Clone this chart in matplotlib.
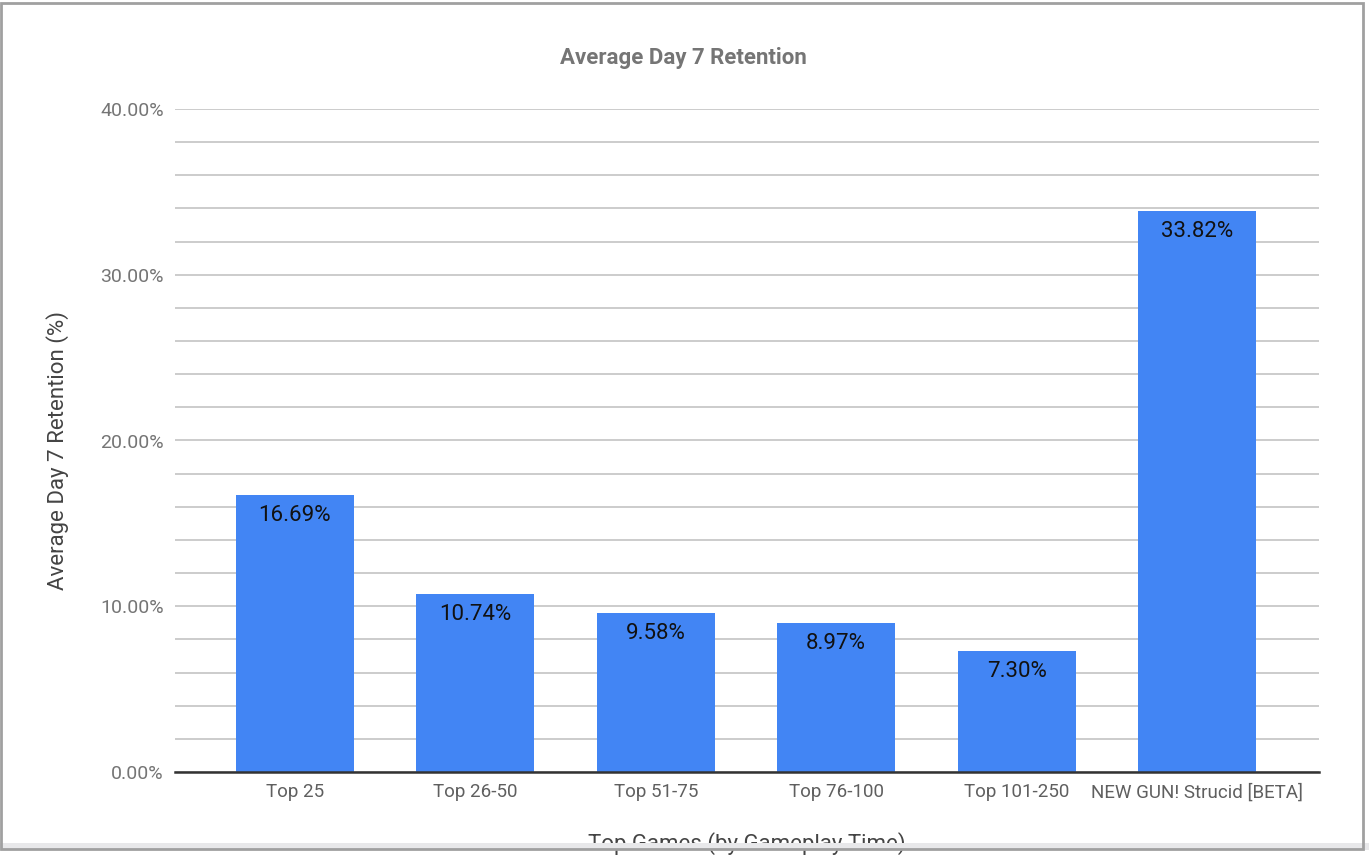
import matplotlib.pyplot as plt
import numpy as np
from matplotlib.patches import Rectangle
from matplotlib.ticker import MultipleLocator, FuncFormatter

plt.rcParams['font.family'] = ['Roboto', 'DejaVu Sans']

categories = ['Top 25', 'Top 26-50', 'Top 51-75', 'Top 76-100', 'Top 101-250', 'NEW GUN! Strucid [BETA]']
retention = [16.69, 10.74, 9.58, 8.97, 7.30, 33.82]

fig = plt.figure(figsize=(13.69, 8.55), dpi=100)
ax = fig.add_axes([175 / 1369, 83 / 855, 1144 / 1369, 663 / 855])

x = np.arange(len(categories))
bars = ax.bar(x, retention, width=0.655, color='#4285f4', zorder=3)

for xi, v in zip(x, retention):
    ax.annotate(f'{v:.2f}%', (xi, v), xytext=(0, -7), textcoords='offset points',
                ha='center', va='top', fontsize=16, color='#111111', zorder=4)

ax.set_xlim(-0.665, 5.676)
ax.set_ylim(0, 40)
ax.yaxis.set_major_locator(MultipleLocator(10))
ax.yaxis.set_minor_locator(MultipleLocator(2))
ax.yaxis.set_major_formatter(FuncFormatter(lambda v, p: f'{v:.2f}%'))
ax.grid(axis='y', which='both', color='#c8c8c8', linewidth=1.3, zorder=0)
ax.set_axisbelow(True)

for s in ['top', 'right', 'left']:
    ax.spines[s].set_visible(False)
ax.spines['bottom'].set_color('#333333')
ax.spines['bottom'].set_linewidth(1.8)
ax.spines['bottom'].set_zorder(5)

ax.tick_params(axis='y', which='both', length=0, pad=8, labelsize=14, labelcolor='#757575')
ax.tick_params(axis='x', length=0, pad=8, labelsize=13.5, labelcolor='#5f5f5f')
ax.set_xticks(x)
ax.set_xticklabels(categories)

fig.text(58 / 1369, 1 - 450 / 855, 'Average Day 7 Retention (%)', ha='center', va='center',
         rotation=90, fontsize=16, color='#444444')
fig.text(747 / 1369, 1 - 844 / 855, 'Top Games (by Gameplay Time)', ha='center', va='center',
         fontsize=16, color='#444444')
fig.text(683 / 1369, 1 - 58 / 855, 'Average Day 7 Retention', ha='center', va='center',
         fontsize=16, fontweight='bold', color='#757575')

# screenshot frame and bottom strip
fig.patches.append(Rectangle((0, 1 - 850 / 855), 1, 7 / 855, transform=fig.transFigure,
                             facecolor='#e8e8ea', edgecolor='none', zorder=10))
fig.patches.append(Rectangle((1 / 1369, 1 - 849 / 855), 1362 / 1369, 846 / 855, transform=fig.transFigure,
                             facecolor='none', edgecolor='#a0a0a0', linewidth=2, zorder=11))

fig.savefig('out.png', dpi=100)
